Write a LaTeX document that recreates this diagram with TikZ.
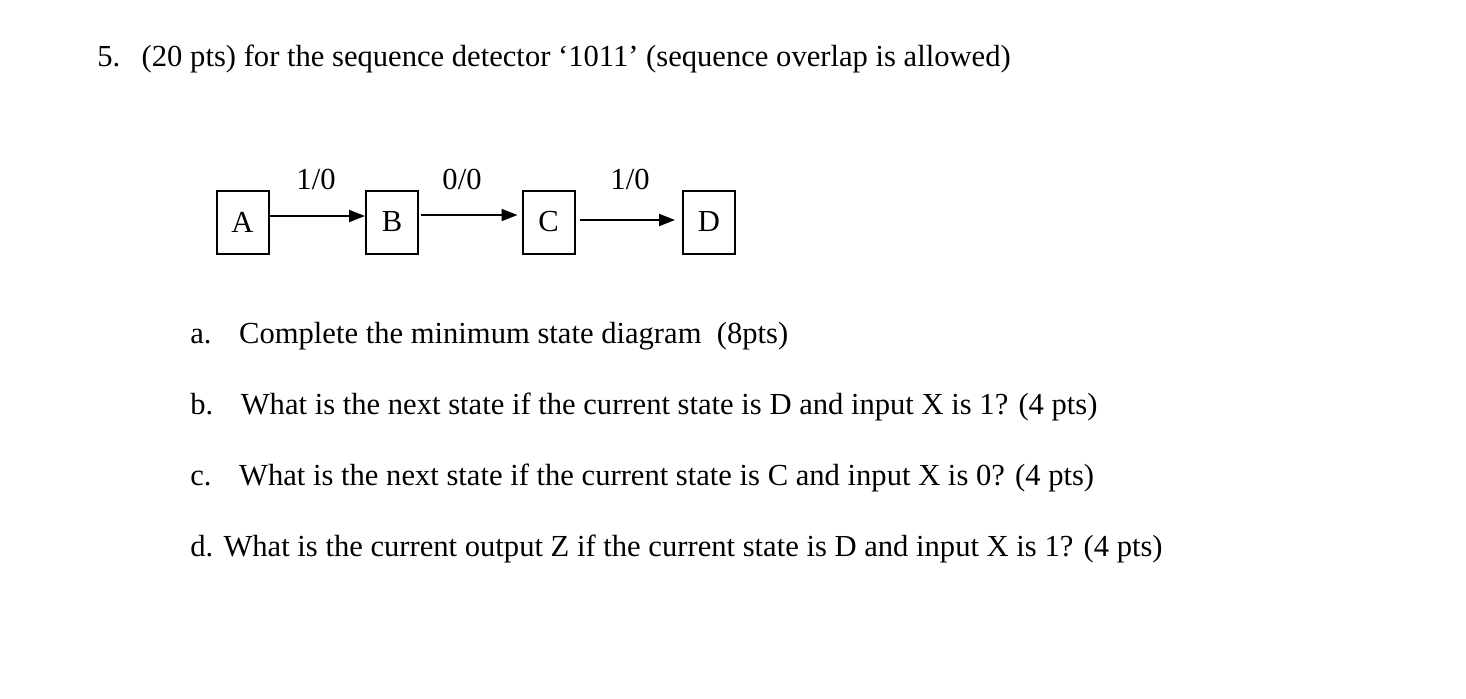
\documentclass[tikz,border=0pt]{standalone}
\usepackage{fontspec}
\setmainfont{Liberation Serif}
\usetikzlibrary{arrows.meta}
\begin{document}
\begin{tikzpicture}[x=0.5pt,y=-0.5pt,
  every node/.style={font=\fontsize{15.3}{18}\selectfont},
  txt/.style={anchor=base west,inner sep=0pt},
  st/.style={draw,line width=1pt,minimum width=26pt,minimum height=31.5pt,inner sep=0pt},
  arr/.style={line width=1pt,-{Triangle[length=8pt,width=6pt]}},
  lab/.style={anchor=base,inner sep=0pt}]
\useasboundingbox (0,0) rectangle (1466,698);
\node[txt] (t0) at (97,66) {5.\hspace{0.7em}(20 pts) for the sequence detector ‘1011’ (sequence overlap is allowed)};
\node[st] (A) at (242.5,222) {A};
\node[st] (B) at (392,222) {B};
\node[st] (C) at (548.5,222) {C};
\node[st] (D) at (709,222) {D};
\draw[arr] (A.east |- 0,216) -- (B.west |- 0,216);
\draw[arr] ([xshift=1pt]B.east |- 0,215) -- ([xshift=-2pt]C.west |- 0,215);
\draw[arr] ([xshift=2pt]C.east |- 0,220) -- ([xshift=-3.5pt]D.west |- 0,220);
\node[lab] (l1) at (316,189) {1/0};
\node[lab] (l2) at (462,189) {0/0};
\node[lab] (l3) at (630,189) {1/0};
\node[txt] (ta) at (190,343) {a.\hspace{0.9em}Complete the minimum state diagram\ \ (8pts)};
\node[txt] (tb) at (190,414) {b.\hspace{0.9em}What is the next state if the current state is D and input X is 1? (4 pts)};
\node[txt] (tc) at (190,485) {c.\hspace{0.9em}What is the next state if the current state is C and input X is 0? (4 pts)};
\node[txt] (td) at (190,556) {d. What is the current output Z if the current state is D and input X is 1? (4 pts)};
\end{tikzpicture}
\end{document}
